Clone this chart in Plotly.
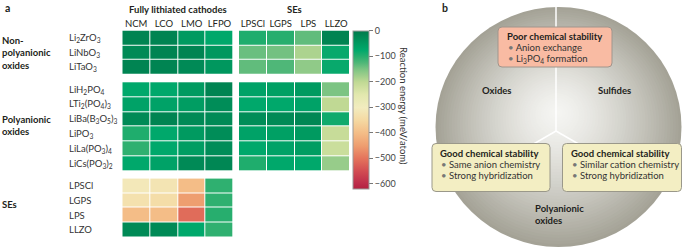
import plotly.graph_objects as go

W, H = 685, 247

# ---------------- data ----------------
cathodes = ["NCM", "LCO", "LMO", "LFPO"]
ses = ["LPSCl", "LGPS", "LPS", "LLZO"]
nonpoly_oxides = ["Li<sub>2</sub>ZrO<sub>3</sub>", "LiNbO<sub>3</sub>", "LiTaO<sub>3</sub>"]
poly_oxides = ["LiH<sub>2</sub>PO<sub>4</sub>", "LTi<sub>2</sub>(PO<sub>4</sub>)<sub>3</sub>",
               "LiBa(B<sub>3</sub>O<sub>5</sub>)<sub>3</sub>", "LiPO<sub>3</sub>",
               "LiLa(PO<sub>3</sub>)<sub>4</sub>", "LiCs(PO<sub>3</sub>)<sub>2</sub>"]
se_materials = ["LPSCl", "LGPS", "LPS", "LLZO"]

nonpoly_vs_cathode = [[-15, -15, -50, -75],
                      [-25, -15, -15, -45],
                      [-15, -15, -25, -45]]
nonpoly_vs_se = [[-95, -100, -135, -15],
                 [-140, -145, -185, -80],
                 [-135, -125, -165, -80]]
poly_vs_cathode = [[-75, -75, -50, -15],
                   [-65, -65, -55, -30],
                   [-25, -15, -25, -25],
                   [-95, -75, -50, -30],
                   [-105, -75, -55, -30],
                   [-75, -65, -25, -20]]
poly_vs_se = [[-65, -60, -50, -150],
              [-75, -75, -65, -200],
              [-30, -25, -20, -85],
              [-65, -60, -50, -210],
              [-75, -65, -55, -215],
              [-95, -75, -75, -170]]
se_vs_cathode = [[-310, -320, -400, -105],
                 [-330, -340, -450, -105],
                 [-400, -400, -510, -100],
                 [-25, -25, -75, -105]]

cb_ticks = [0, -100, -200, -300, -400, -500, -600]
z_min, z_max = -620, 0
scale_vals = [-620, -600, -550, -500, -450, -400, -350, -300, -250, -200, -150, -125, -100, -75, -50, -25, 0]
scale_cols = ["#b3203f", "#bc2b4a", "#d24c52", "#e4745c", "#ee9e70", "#f4bd87", "#f5d9a2", "#f2ecbf",
              "#e2e8ae", "#c0d994", "#7cc483", "#4fb778", "#27ae6e", "#00a86b", "#009a60", "#008a56", "#007a4c"]
colorscale = [[(v - z_min) / (z_max - z_min), c] for v, c in zip(scale_vals, scale_cols)]

FONT = "Lato"
DARK = "#231f20"

def py(p):
    return 1 - p / H

def px(p):
    return p / W

fig = go.Figure()

blocks = [
    (nonpoly_vs_cathode, cathodes, nonpoly_oxides, "x", "y"),
    (nonpoly_vs_se, ses, nonpoly_oxides, "x2", "y"),
    (poly_vs_cathode, cathodes, poly_oxides, "x", "y2"),
    (poly_vs_se, ses, poly_oxides, "x2", "y2"),
    (se_vs_cathode, cathodes, se_materials, "x", "y3"),
]
for z, xs, ys, xa, ya in blocks:
    fig.add_trace(go.Heatmap(z=z, x=xs, y=ys, xaxis=xa, yaxis=ya, coloraxis="coloraxis",
                             xgap=1, ygap=1, hoverinfo="skip"))

# empty trace for panel b axes
fig.add_trace(go.Scatter(x=[], y=[], xaxis="x3", yaxis="y4", showlegend=False, hoverinfo="skip"))

xcommon = dict(showgrid=False, zeroline=False, ticks="", showline=False, side="top", anchor="y",
               tickfont=dict(family=FONT, size=9.5, color=DARK))
ycommon = dict(showgrid=False, zeroline=False, ticks="", showline=False, showticklabels=False,
               autorange="reversed", anchor="x")

fig.update_layout(
    width=W, height=H, margin=dict(l=0, r=0, t=0, b=0),
    paper_bgcolor="white", plot_bgcolor="white", showlegend=False,
    xaxis=dict(domain=[px(122.3), px(233.3)], **xcommon),
    xaxis2=dict(domain=[px(239), px(350)], **xcommon),
    yaxis=dict(domain=[py(75), py(30)], **ycommon),
    yaxis2=dict(domain=[py(171.7), py(81.7)], **ycommon),
    yaxis3=dict(domain=[py(237.3), py(178.3)], **ycommon),
    xaxis3=dict(domain=[px(420), 1], range=[420, 685], visible=False, anchor="y4", fixedrange=True),
    yaxis4=dict(domain=[0, 1], range=[247, 0], visible=False, anchor="x3", fixedrange=True),
    coloraxis=dict(cmin=z_min, cmax=z_max, colorscale=colorscale,
                   colorbar=dict(x=px(352.7), xanchor="left", xpad=0, y=py(30.7), yanchor="top", ypad=0,
                                 len=157.6, lenmode="pixels", thickness=16, thicknessmode="pixels",
                                 outlinewidth=1, outlinecolor="#9a9a9a", ticks="outside", ticklen=4,
                                 tickcolor="#777", tickvals=cb_ticks,
                                 tickfont=dict(family=FONT, size=9, color="#444"))),
)

ann = []
def add_text(text, x, y, xref="paper", yref="paper", size=9.5, bold=False, xanchor="left",
             yanchor="middle", color=DARK, align="left", angle=0):
    if bold:
        text = "<b>" + text + "</b>"
    ann.append(dict(text=text, x=x, y=y, xref=xref, yref=yref, showarrow=False, xanchor=xanchor,
                    yanchor=yanchor, align=align, textangle=angle,
                    font=dict(family=FONT, size=size, color=color)))

# panel a labels
add_text("a", px(3), py(8), size=10.5, bold=True)
add_text("Fully lithiated cathodes", px(177.8), py(9), bold=True, xanchor="center")
add_text("SEs", px(294.5), py(9), bold=True, xanchor="center")
add_text("Non-<br>polyanionic<br>oxides", px(0), py(52.5), bold=True)
add_text("Polyanionic<br>oxides", px(0), py(125), bold=True)
add_text("SEs", px(0), py(204), bold=True)
for names, ya in ((nonpoly_oxides, "y"), (poly_oxides, "y2"), (se_materials, "y3")):
    for n in names:
        add_text(n, px(66.5), n, yref=ya, color="#333")
add_text("Reaction energy (meV/atom)", px(404), py(106), angle=90, xanchor="center", color="#333")

# panel b
shapes = []
CX, CY, RX, RY = 558.5, 127, 123, 120
HX, HY = 557, 112
edge = (0xa4, 0xa2, 0x96)
center = (0xf5, 0xf5, 0xf2)
n = 45
for i in range(n):
    t = i / n
    s = 1 - t
    rx, ry = RX * s, RY * s
    cx = CX + (HX - CX) * t
    cy = CY + (HY - CY) * t
    f = s ** 1.4
    col = tuple(int(round(c + (e - c) * f)) for c, e in zip(center, edge))
    shapes.append(dict(type="circle", xref="x3", yref="y4", x0=cx - rx, x1=cx + rx, y0=cy - ry, y1=cy + ry,
                       fillcolor="rgb(%d,%d,%d)" % col, line=dict(width=0), layer="below"))

JX, JY = 556, 131
for (x1, y1) in ((556, 6), (452, 191), (660, 191)):
    shapes.append(dict(type="line", xref="x3", yref="y4", x0=JX, y0=JY, x1=x1, y1=y1,
                       line=dict(color="white", width=1.5)))

def rrect(x0, y0, x1, y1, r, fill, line):
    p = (f"M {x0+r} {y0} L {x1-r} {y0} Q {x1} {y0} {x1} {y0+r} L {x1} {y1-r} Q {x1} {y1} {x1-r} {y1} "
         f"L {x0+r} {y1} Q {x0} {y1} {x0} {y1-r} L {x0} {y0+r} Q {x0} {y0} {x0+r} {y0} Z")
    return dict(type="path", path=p, xref="x3", yref="y4", fillcolor=fill, line=dict(color=line, width=1))

shapes.append(rrect(498, 27, 612, 67, 4, "#f9bba3", "#a0958c"))
shapes.append(rrect(432, 143.5, 550, 191.5, 4, "#f3eec3", "#9a988a"))
shapes.append(rrect(562.5, 143.5, 681.5, 191.5, 4, "#f3eec3", "#9a988a"))

add_text("b", 440, 8, xref="x3", yref="y4", size=10.5, bold=True)
add_text("Poor chemical stability", 505, 36.5, xref="x3", yref="y4", bold=True)
add_text("<span style='color:#777'>•</span> Anion exchange", 505.5, 47.5, xref="x3", yref="y4", color="#333")
add_text("<span style='color:#777'>•</span> Li<sub>3</sub>PO<sub>4</sub> formation", 505.5, 58.5,
         xref="x3", yref="y4", color="#333")
add_text("Oxides", 497, 90, xref="x3", yref="y4", bold=True, xanchor="center")
add_text("Sulfides", 614, 90, xref="x3", yref="y4", bold=True, xanchor="center")
for bx in (438, 569):
    add_text("Good chemical stability", bx, 153.5, xref="x3", yref="y4", bold=True)
add_text("<span style='color:#777'>•</span> Same anion chemistry", 438.5, 164.5, xref="x3", yref="y4", color="#333")
add_text("<span style='color:#777'>•</span> Strong hybridization", 438.5, 175.5, xref="x3", yref="y4", color="#333")
add_text("<span style='color:#777'>•</span> Similar cation chemistry", 569.5, 164.5, xref="x3", yref="y4", color="#333")
add_text("<span style='color:#777'>•</span> Strong hybridization", 569.5, 175.5, xref="x3", yref="y4", color="#333")
add_text("Polyanionic<br>oxides", 533, 214, xref="x3", yref="y4", bold=True)

fig.update_layout(annotations=ann, shapes=shapes)
fig.write_html("out.html", config={"displayModeBar": False},
               post_script="document.body.style.margin='0';document.body.style.overflow='hidden';")
